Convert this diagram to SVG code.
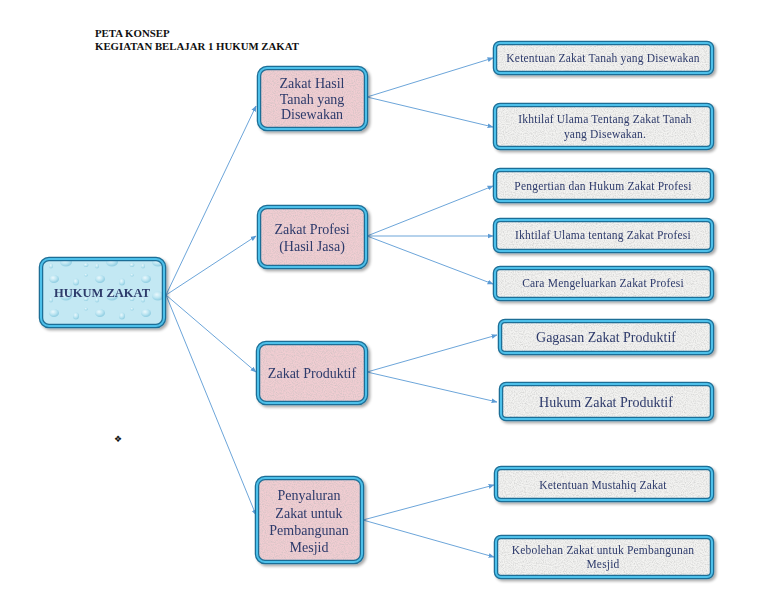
<svg xmlns="http://www.w3.org/2000/svg" width="768" height="594" viewBox="0 0 768 594">
<defs>
<filter id="grain" x="0" y="0" width="100%" height="100%">
<feTurbulence type="fractalNoise" baseFrequency="0.9" numOctaves="2" seed="3" result="n"/>
<feColorMatrix in="n" type="matrix" values="0 0 0 0 0.5  0 0 0 0 0.5  0 0 0 0 0.5  0 0 0 -1.2 0.75" result="g"/>
<feComposite in="g" in2="SourceGraphic" operator="in" result="gi"/>
<feMerge><feMergeNode in="SourceGraphic"/><feMergeNode in="gi"/></feMerge>
</filter>
<filter id="shadow" x="-10%" y="-10%" width="125%" height="130%">
<feGaussianBlur in="SourceAlpha" stdDeviation="1.5"/>
<feOffset dx="1.5" dy="2" result="o"/>
<feComponentTransfer><feFuncA type="linear" slope="0.35"/></feComponentTransfer>
<feMerge><feMergeNode/><feMergeNode in="SourceGraphic"/></feMerge>
</filter>
<radialGradient id="bub" cx="0.4" cy="0.35" r="0.6">
<stop offset="0" stop-color="#f2fbfe"/>
<stop offset="0.6" stop-color="#b9e4f1"/>
<stop offset="1" stop-color="#8ccbe0"/>
</radialGradient>
<pattern id="bubbles" width="46" height="34" patternUnits="userSpaceOnUse">
<rect width="46" height="34" fill="#c3e8f3"/>
<ellipse cx="8" cy="7" rx="5" ry="4" fill="url(#bub)" opacity="0.85"/>
<ellipse cx="30" cy="10" rx="3" ry="3.5" fill="url(#bub)" opacity="0.8"/>
<ellipse cx="20" cy="24" rx="6" ry="4.5" fill="url(#bub)" opacity="0.8"/>
<ellipse cx="40" cy="27" rx="2.5" ry="2" fill="url(#bub)" opacity="0.8"/>
<ellipse cx="5" cy="28" rx="2" ry="2.5" fill="url(#bub)" opacity="0.7"/>
<ellipse cx="40" cy="3" rx="1.8" ry="1.5" fill="url(#bub)" opacity="0.7"/>
</pattern>
<marker id="arr" viewBox="0 0 10 10" refX="9" refY="5" markerWidth="6" markerHeight="6" orient="auto" markerUnits="userSpaceOnUse">
<path d="M0,1 L10,5 L0,9 z" fill="#5b9bd5"/>
</marker>
</defs>
<style>
.edge{stroke:#5b9bd5;stroke-width:0.9;fill:none;marker-end:url(#arr)}
.outer{fill:none;stroke:#1d6e96;stroke-width:4.5}
.inner{fill:none;stroke:#4dc0ea;stroke-width:2}
.pink{fill:#f1cdd2}
.white{fill:#f3f3f1}
.t{font-family:"Liberation Serif","DejaVu Serif",serif;fill:#2d3a6b;text-anchor:middle}
.pt{font-size:14px}
.wt{font-size:11.5px;letter-spacing:0.2px}
.title{font-family:"Liberation Serif",serif;font-weight:bold;font-size:10.8px;fill:#111}
</style>
<rect width="768" height="594" fill="#ffffff"/>
<text class="title" x="95" y="37">PETA KONSEP</text>
<text class="title" x="95" y="50">KEGIATAN BELAJAR 1 HUKUM ZAKAT</text>
<text x="118" y="442" font-family="DejaVu Sans,sans-serif" font-size="9" text-anchor="middle" fill="#111">❖</text>

<g id="connectors">
<line class="edge" x1="166" y1="295" x2="256" y2="106"/>
<line class="edge" x1="166" y1="295" x2="256" y2="236"/>
<line class="edge" x1="166" y1="295" x2="256" y2="372"/>
<line class="edge" x1="166" y1="295" x2="256" y2="515"/>
<line class="edge" x1="367" y1="97" x2="493" y2="58"/>
<line class="edge" x1="367" y1="97" x2="493" y2="127"/>
<line class="edge" x1="367" y1="236" x2="493" y2="186"/>
<line class="edge" x1="367" y1="236" x2="493" y2="236"/>
<line class="edge" x1="367" y1="236" x2="493" y2="284"/>
<line class="edge" x1="367" y1="372" x2="497" y2="335"/>
<line class="edge" x1="367" y1="372" x2="497" y2="402"/>
<line class="edge" x1="363" y1="520" x2="494" y2="485"/>
<line class="edge" x1="363" y1="520" x2="494" y2="557"/>
</g>

<g id="hukum-zakat" filter="url(#shadow)">
<rect x="41" y="259" width="123" height="67" rx="8" fill="url(#bubbles)"/>
<rect class="outer" x="41" y="259" width="123" height="67" rx="8"/>
<rect class="inner" x="41" y="259" width="123" height="67" rx="8"/>
<text class="t" x="102" y="297" font-size="12.5" font-weight="bold" fill="#24305e">HUKUM ZAKAT</text>
</g>

<g id="zakat-hasil-tanah" filter="url(#shadow)">
<rect class="pink" x="259" y="68" width="107" height="61" rx="8" filter="url(#grain)"/>
<rect class="outer" x="259" y="68" width="107" height="61" rx="8"/>
<rect class="inner" x="259" y="68" width="107" height="61" rx="8"/>
<text class="t pt" x="312" y="88">Zakat Hasil</text>
<text class="t pt" x="312" y="104">Tanah yang</text>
<text class="t pt" x="312" y="119">Disewakan</text>
</g>

<g id="zakat-profesi" filter="url(#shadow)">
<rect class="pink" x="259" y="207" width="107" height="60" rx="8" filter="url(#grain)"/>
<rect class="outer" x="259" y="207" width="107" height="60" rx="8"/>
<rect class="inner" x="259" y="207" width="107" height="60" rx="8"/>
<text class="t pt" x="312" y="234">Zakat Profesi</text>
<text class="t pt" x="312" y="251">(Hasil Jasa)</text>
</g>

<g id="zakat-produktif" filter="url(#shadow)">
<rect class="pink" x="258" y="343" width="108" height="60" rx="8" filter="url(#grain)"/>
<rect class="outer" x="258" y="343" width="108" height="60" rx="8"/>
<rect class="inner" x="258" y="343" width="108" height="60" rx="8"/>
<text class="t pt" x="312" y="378">Zakat Produktif</text>
</g>

<g id="penyaluran" filter="url(#shadow)">
<rect class="pink" x="257" y="478" width="105" height="84" rx="8" filter="url(#grain)"/>
<rect class="outer" x="257" y="478" width="105" height="84" rx="8"/>
<rect class="inner" x="257" y="478" width="105" height="84" rx="8"/>
<text class="t pt" x="309" y="500">Penyaluran</text>
<text class="t pt" x="309" y="518">Zakat untuk</text>
<text class="t pt" x="309" y="535">Pembangunan</text>
<text class="t pt" x="309" y="552">Mesjid</text>
</g>

<g id="ketentuan-tanah" filter="url(#shadow)">
<rect class="white" x="495" y="43" width="217" height="30" rx="5" filter="url(#grain)"/>
<rect class="outer" x="495" y="43" width="217" height="30" rx="5"/>
<rect class="inner" x="495" y="43" width="217" height="30" rx="5"/>
<text class="t wt" x="603" y="62">Ketentuan Zakat Tanah yang Disewakan</text>
</g>

<g id="ikhtilaf-tanah" filter="url(#shadow)">
<rect class="white" x="495" y="105" width="217" height="43" rx="5" filter="url(#grain)"/>
<rect class="outer" x="495" y="105" width="217" height="43" rx="5"/>
<rect class="inner" x="495" y="105" width="217" height="43" rx="5"/>
<text class="t wt" x="605" y="123">Ikhtilaf Ulama Tentang Zakat Tanah</text>
<text class="t wt" x="605" y="138">yang Disewakan.</text>
</g>

<g id="pengertian-profesi" filter="url(#shadow)">
<rect class="white" x="495" y="170" width="217" height="31" rx="5" filter="url(#grain)"/>
<rect class="outer" x="495" y="170" width="217" height="31" rx="5"/>
<rect class="inner" x="495" y="170" width="217" height="31" rx="5"/>
<text class="t wt" x="603" y="190">Pengertian dan Hukum Zakat Profesi</text>
</g>

<g id="ikhtilaf-profesi" filter="url(#shadow)">
<rect class="white" x="495" y="220" width="217" height="31" rx="5" filter="url(#grain)"/>
<rect class="outer" x="495" y="220" width="217" height="31" rx="5"/>
<rect class="inner" x="495" y="220" width="217" height="31" rx="5"/>
<text class="t wt" x="603" y="239">Ikhtilaf Ulama tentang Zakat Profesi</text>
</g>

<g id="cara-profesi" filter="url(#shadow)">
<rect class="white" x="495" y="268" width="217" height="31" rx="5" filter="url(#grain)"/>
<rect class="outer" x="495" y="268" width="217" height="31" rx="5"/>
<rect class="inner" x="495" y="268" width="217" height="31" rx="5"/>
<text class="t wt" x="603" y="287">Cara Mengeluarkan Zakat Profesi</text>
</g>

<g id="gagasan-produktif" filter="url(#shadow)">
<rect class="white" x="500" y="321" width="212" height="32" rx="5" filter="url(#grain)"/>
<rect class="outer" x="500" y="321" width="212" height="32" rx="5"/>
<rect class="inner" x="500" y="321" width="212" height="32" rx="5"/>
<text class="t" font-size="14" x="606" y="342">Gagasan Zakat Produktif</text>
</g>

<g id="hukum-produktif" filter="url(#shadow)">
<rect class="white" x="501" y="384" width="211" height="35" rx="5" filter="url(#grain)"/>
<rect class="outer" x="501" y="384" width="211" height="35" rx="5"/>
<rect class="inner" x="501" y="384" width="211" height="35" rx="5"/>
<text class="t" font-size="14" x="606" y="407">Hukum Zakat Produktif</text>
</g>

<g id="ketentuan-mustahiq" filter="url(#shadow)">
<rect class="white" x="496" y="468" width="216" height="32" rx="5" filter="url(#grain)"/>
<rect class="outer" x="496" y="468" width="216" height="32" rx="5"/>
<rect class="inner" x="496" y="468" width="216" height="32" rx="5"/>
<text class="t wt" x="603" y="489">Ketentuan Mustahiq Zakat</text>
</g>

<g id="kebolehan" filter="url(#shadow)">
<rect class="white" x="496" y="537" width="216" height="40" rx="5" filter="url(#grain)"/>
<rect class="outer" x="496" y="537" width="216" height="40" rx="5"/>
<rect class="inner" x="496" y="537" width="216" height="40" rx="5"/>
<text class="t wt" x="603" y="554">Kebolehan Zakat untuk Pembangunan</text>
<text class="t wt" x="603" y="568">Mesjid</text>
</g>
</svg>
